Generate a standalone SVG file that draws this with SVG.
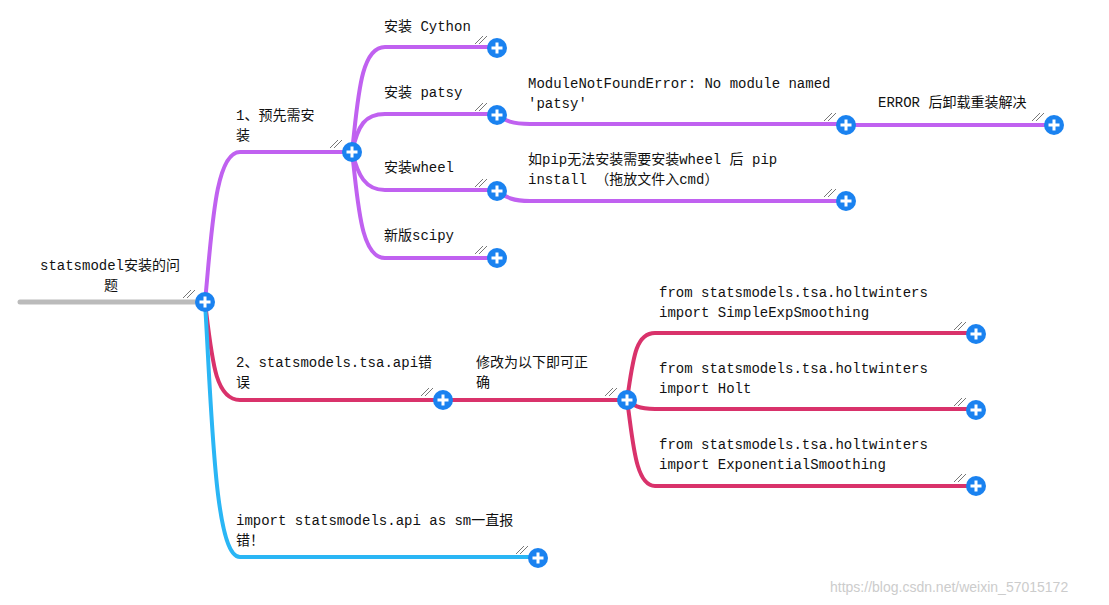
<svg xmlns="http://www.w3.org/2000/svg" width="1109" height="605" viewBox="0 0 1109 605">
<defs>
<style>
text{font-family:"Liberation Mono","Noto Sans CJK SC",monospace;font-size:14px;fill:#111}
.p{stroke:#c061f0;stroke-width:4;fill:none;stroke-linecap:round}
.r{stroke:#d9326b;stroke-width:4;fill:none;stroke-linecap:round}
.b{stroke:#2ab6f5;stroke-width:4;fill:none;stroke-linecap:round}
.g{stroke:#bbb;stroke-width:5;fill:none;stroke-linecap:round}
.m{stroke:#777;stroke-width:1;fill:none}
</style>
<g id="btn"><circle r="10" fill="#1a82f0"/><path d="M-5.5 0H5.5M0 -5.5V5.5" stroke="#fff" stroke-width="3"/></g>
<g id="mk"><path class="m" d="M-15 -2L-7 -10M-11 -2L-3 -10"/></g>
</defs>
<g id="connectors">
<path class="g" d="M20 302H205"/>
<path class="p" d="M205 302C212 230 215 152 240 152H352"/>
<path class="r" d="M205 302C212 360 215 400 240 400H443"/>
<path class="b" d="M205 302C212 420 215 557 240 557H538"/>
<path class="p" d="M352 152C358 100 360 47 385 47H497"/>
<path class="p" d="M352 152C358 125 365 114 385 114H497"/>
<path class="p" d="M352 152C358 175 365 190 385 190H497"/>
<path class="p" d="M352 152C358 200 360 258 385 258H497"/>
<path class="p" d="M497 115C505 120 510 124 530 124H846"/>
<path class="p" d="M846 125H1054"/>
<path class="p" d="M497 191C505 196 510 201 530 201H846"/>
<path class="r" d="M443 400H627"/>
<path class="r" d="M627 400C633 360 635 333 655 333H976"/>
<path class="r" d="M627 400C633 405 638 409 655 409H976"/>
<path class="r" d="M627 400C633 440 635 486 655 486H976"/>
</g>
<g id="root"><text x="40" y="270">statsmodel安装的问</text><text x="104" y="290">题</text><use href="#mk" x="198" y="300"/><use href="#btn" x="205" y="302"/></g>
<g id="n1"><text x="236" y="120">1、预先需安</text><text x="236" y="140">装</text><use href="#mk" x="345" y="150"/><use href="#btn" x="352" y="152"/></g>
<g id="n1a"><text x="384" y="31">安装 Cython</text><use href="#mk" x="490" y="46"/><use href="#btn" x="497" y="48"/></g>
<g id="n1b"><text x="384" y="97">安装 patsy</text><use href="#mk" x="490" y="113"/><use href="#btn" x="497" y="115"/></g>
<g id="n1b1"><text x="528" y="88">ModuleNotFoundError: No module named</text><text x="528" y="108">'patsy'</text><use href="#mk" x="839" y="123"/><use href="#btn" x="846" y="125"/></g>
<g id="n1b2"><text x="878" y="107">ERROR 后卸载重装解决</text><use href="#mk" x="1047" y="123"/><use href="#btn" x="1054" y="125"/></g>
<g id="n1c"><text x="384" y="172">安装wheel</text><use href="#mk" x="490" y="189"/><use href="#btn" x="497" y="191"/></g>
<g id="n1c1"><text x="528" y="164">如pip无法安装需要安装wheel 后 pip</text><text x="528" y="184">install （拖放文件入cmd）</text><use href="#mk" x="839" y="199"/><use href="#btn" x="846" y="201"/></g>
<g id="n1d"><text x="384" y="240">新版scipy</text><use href="#mk" x="490" y="256"/><use href="#btn" x="497" y="258"/></g>
<g id="n2"><text x="236" y="367">2、statsmodels.tsa.api错</text><text x="236" y="387">误</text><use href="#mk" x="436" y="398"/><use href="#btn" x="443" y="400"/></g>
<g id="n2a"><text x="476" y="367">修改为以下即可正</text><text x="476" y="387">确</text><use href="#mk" x="620" y="398"/><use href="#btn" x="627" y="400"/></g>
<g id="n2a1"><text x="659" y="297">from statsmodels.tsa.holtwinters</text><text x="659" y="317">import SimpleExpSmoothing</text><use href="#mk" x="969" y="332"/><use href="#btn" x="976" y="334"/></g>
<g id="n2a2"><text x="659" y="373">from statsmodels.tsa.holtwinters</text><text x="659" y="393">import Holt</text><use href="#mk" x="969" y="408"/><use href="#btn" x="976" y="410"/></g>
<g id="n2a3"><text x="659" y="449">from statsmodels.tsa.holtwinters</text><text x="659" y="469">import ExponentialSmoothing</text><use href="#mk" x="969" y="484"/><use href="#btn" x="976" y="486"/></g>
<g id="n3"><text x="236" y="525">import statsmodels.api as sm一直报</text><text x="236" y="545">错！</text><use href="#mk" x="531" y="556"/><use href="#btn" x="538" y="558"/></g>
<text x="830" y="592" style="font-family:'Liberation Sans',sans-serif;font-size:14px;fill:#ccc">https://blog.csdn.net/weixin_57015172</text>
</svg>
